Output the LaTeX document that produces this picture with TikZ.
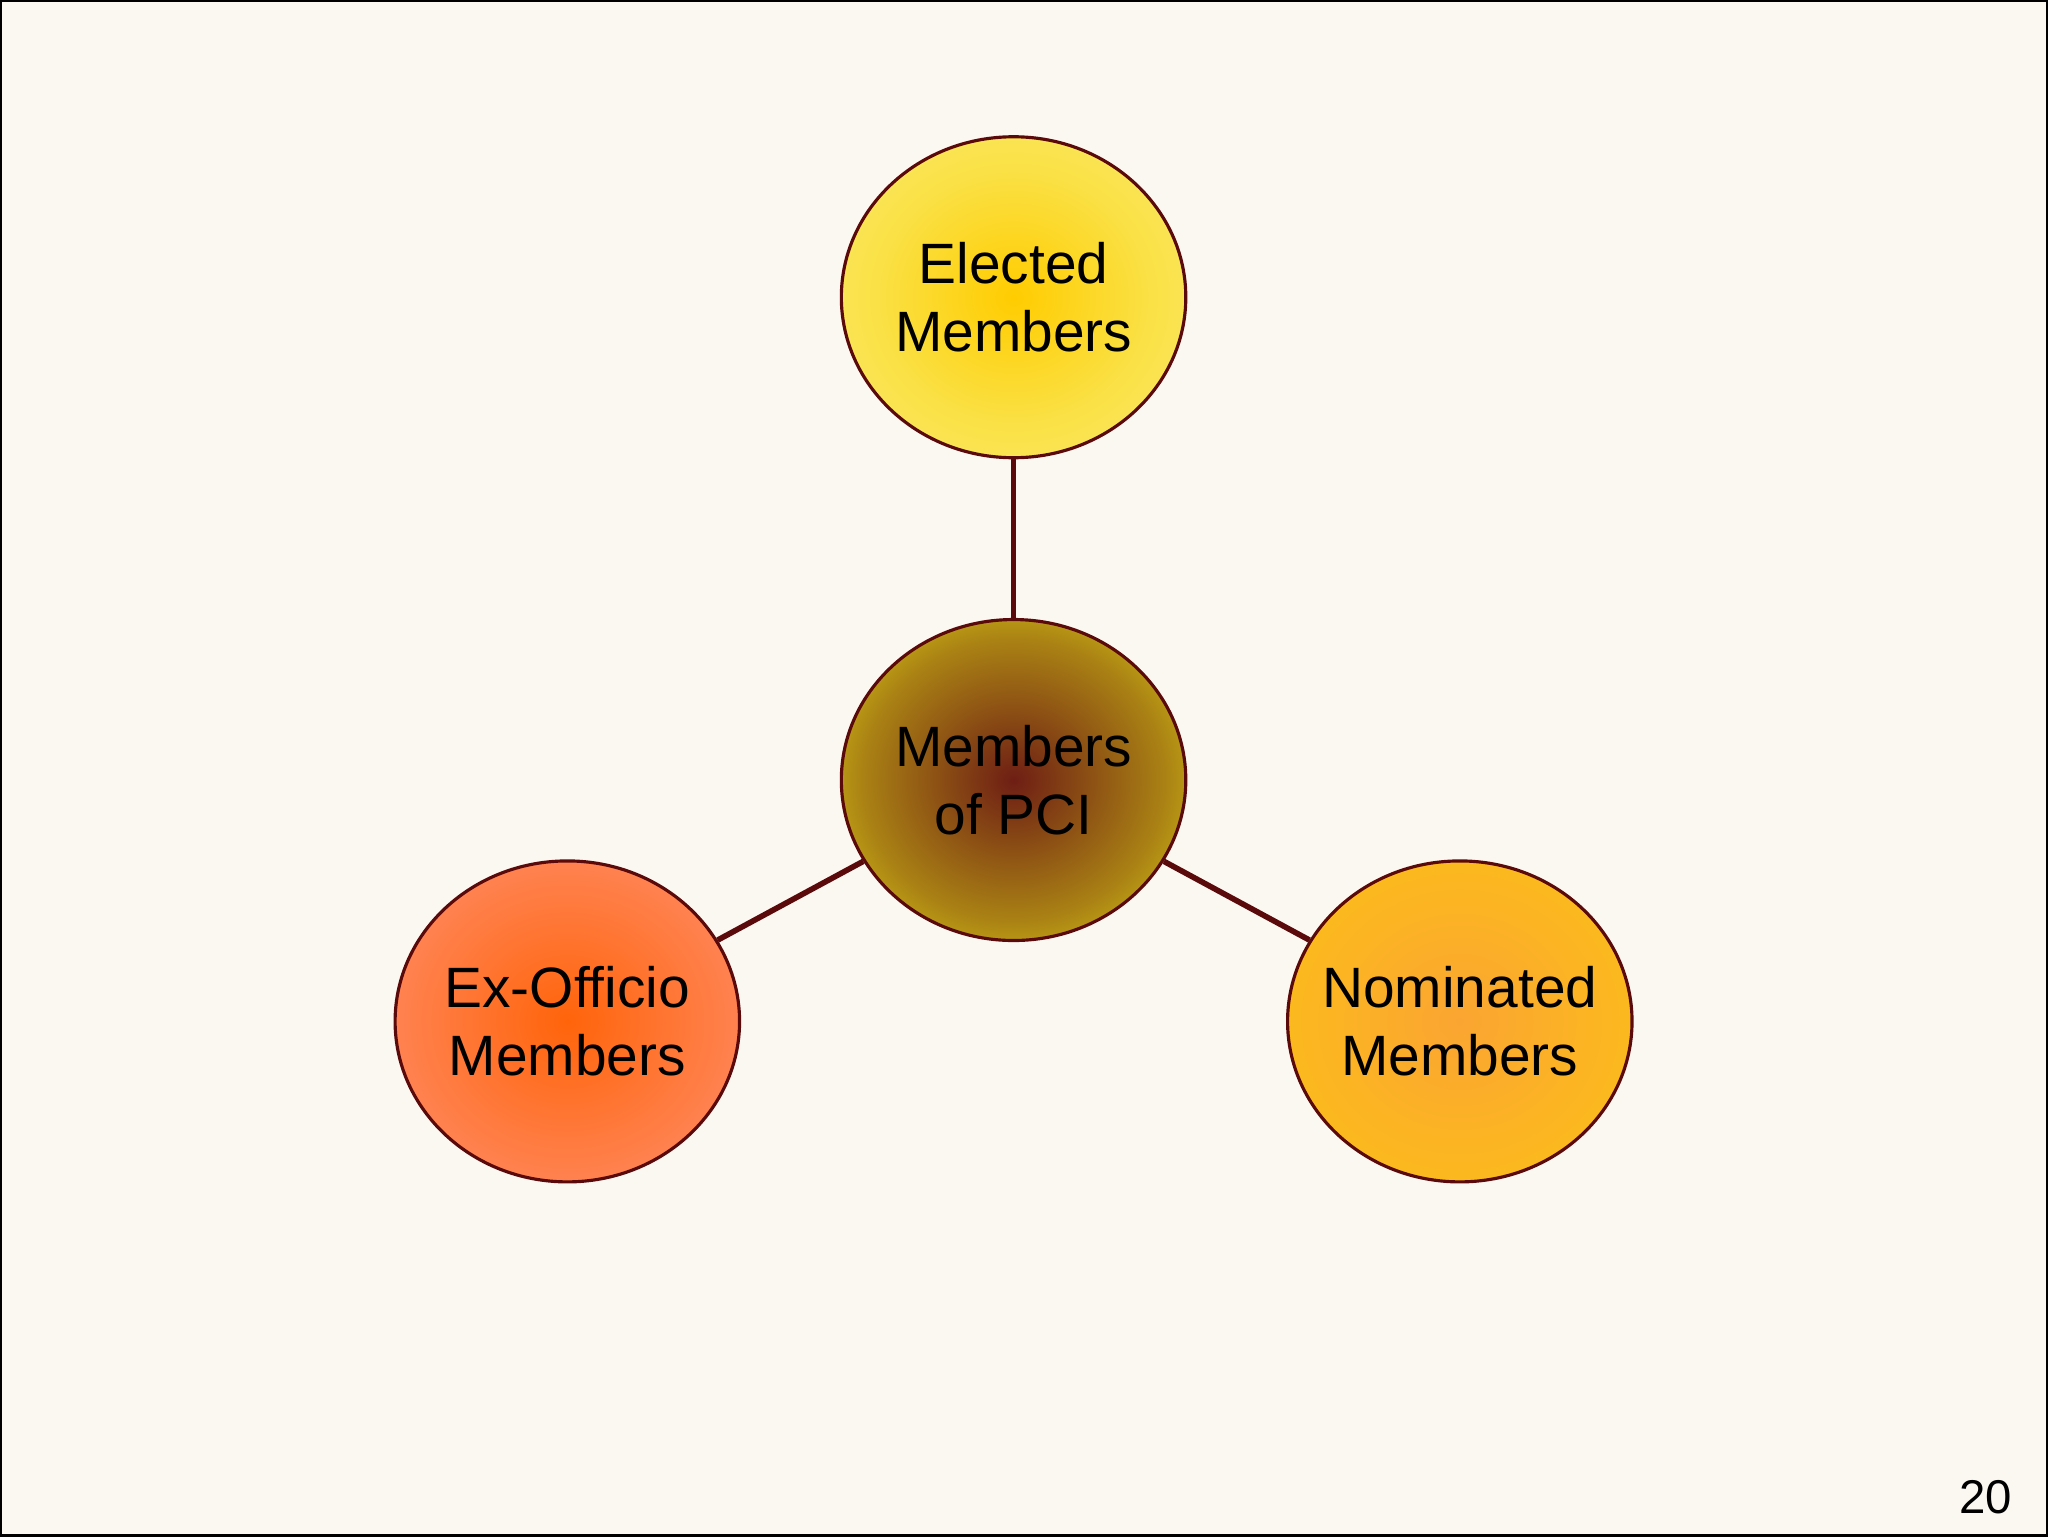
\documentclass[tikz,border=0pt]{standalone}
\usepackage{fontspec}
\setmainfont{Liberation Sans}
\usetikzlibrary{shapes.geometric}
\definecolor{bg}{HTML}{FBF8F2}
\definecolor{ln}{HTML}{5A0A0A}
\pgfdeclareradialshading{yel}{\pgfpoint{0bp}{0bp}}{color(0bp)=(rgb,255:red,255;green,204;blue,0);color(20bp)=(rgb,255:red,250;green,225;blue,70);color(50bp)=(rgb,255:red,250;green,242;blue,140)}
\pgfdeclareradialshading{ctr}{\pgfpoint{0bp}{0bp}}{color(0bp)=(rgb,255:red,110;green,30;blue,20);color(22bp)=(rgb,255:red,170;green,130;blue,20);color(36bp)=(rgb,255:red,230;green,220;blue,20);color(50bp)=(rgb,255:red,255;green,240;blue,20)}
\pgfdeclareradialshading{red}{\pgfpoint{0bp}{0bp}}{color(0bp)=(rgb,255:red,255;green,100;blue,10);color(50bp)=(rgb,255:red,255;green,160;blue,150)}
\pgfdeclareradialshading{org}{\pgfpoint{0bp}{0bp}}{color(0bp)=(rgb,255:red,250;green,165;blue,50);color(50bp)=(rgb,255:red,255;green,205;blue,10)}
\newcommand{\zl}[1]{\makebox[0pt]{#1}}
\tikzset{x=0.01306cm,y=-0.01306cm,
 bub/.style={ellipse,draw=ln,line width=0.9pt,minimum width=264*0.01306cm,minimum height=246*0.01306cm,inner sep=0pt,align=center,font=\fontsize{16.2}{19.5}\selectfont},
 con/.style={draw=ln,line width=1.6pt}}
\begin{document}
\begin{tikzpicture}
\fill[bg,draw=black,line width=0.6pt] (0,0) rectangle (1568,1176);
\node[bub,shading=yel] (e) at (776,227) {\zl{Elected}\\\zl{Members}};
\node[bub,shading=ctr] (c) at (776,597) {\zl{Members}\\\zl{of PCI}};
\node[bub,shading=red] (x) at (434,782) {\zl{Ex-Officio}\\\zl{Members}};
\node[bub,shading=org] (n) at (1118,782) {\zl{Nominated}\\\zl{Members}};
\draw[con] (e) -- (c);
\draw[con] (c) -- (x);
\draw[con] (c) -- (n);
\node[font=\fontsize{13.5}{16}\selectfont] (p) at (1521,1147) {20};
\end{tikzpicture}
\end{document}
